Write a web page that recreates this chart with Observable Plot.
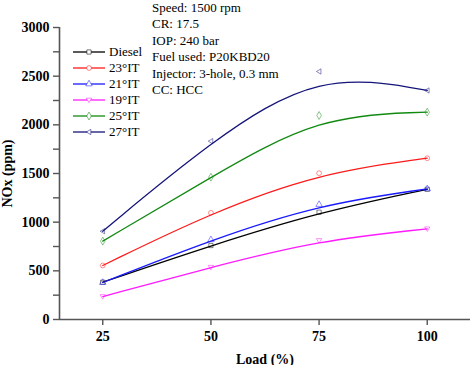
<!DOCTYPE html>
<html>
<head>
<meta charset="utf-8">
<script src="https://cdn.jsdelivr.net/npm/d3@7"></script>
<script src="https://cdn.jsdelivr.net/npm/@observablehq/plot@0.6"></script>
<style>
  body { margin: 0; background: #fff; }
  #wrap { position: relative; width: 474px; height: 365px; font-family: "Liberation Serif", "Times New Roman", serif; }
  #legend { position: absolute; left: 73px; top: 44px; }
  .li { display: flex; align-items: center; height: 16px; font-size: 13px; color: #000; }
  .li svg { margin-right: 2px; }
  #notes { position: absolute; left: 152px; top: 0px; font-size: 13px; line-height: 16.4px; color: #000; }
</style>
</head>
<body>
<div id="wrap">
  <div id="plot"></div>
  <div id="legend"></div>
  <div id="notes"></div>
</div>
<script>
// ---- data ----
const loads = [25, 50, 75, 100];
const seriesNames = ["Diesel", "23°IT", "21°IT", "19°IT", "25°IT", "27°IT"];
const diesel = [383, 760, 1102, 1338];
const it23 = [555, 1096, 1503, 1657];
const it21 = [380, 819, 1181, 1342];
const it19 = [236, 537, 812, 932];
const it25 = [805, 1462, 2096, 2130];
const it27 = [907, 1832, 2548, 2353];
const seriesValues = [diesel, it23, it21, it19, it25, it27];
const seriesColors = ["#000000", "#ff1a1a", "#1a1aff", "#ff1aff", "#128a12", "#14147a"];
const xTicks = [25, 50, 75, 100];
const yTicks = [0, 250, 500, 750, 1000, 1250, 1500, 1750, 2000, 2250, 2500, 2750, 3000];
const notes = ["Speed: 1500 rpm", "CR: 17.5", "IOP: 240 bar", "Fuel used: P20KBD20", "Injector: 3-hole, 0.3 mm", "CC: HCC"];

// ---- symbols ----
const triDown = { draw(ctx, size) { const r = Math.sqrt(size) * 0.62; ctx.moveTo(-r, -r * 0.7); ctx.lineTo(r, -r * 0.7); ctx.lineTo(0, r); ctx.closePath(); } };
const triLeft = { draw(ctx, size) { const r = Math.sqrt(size) * 0.62; ctx.moveTo(r * 0.7, -r); ctx.lineTo(r * 0.7, r); ctx.lineTo(-r, 0); ctx.closePath(); } };
const seriesSymbols = [d3.symbolSquare, d3.symbolCircle, d3.symbolTriangle, triDown, d3.symbolDiamond, triLeft];

const rows = [];
seriesNames.forEach((name, i) => loads.forEach((l, j) => rows.push({ series: name, load: l, nox: seriesValues[i][j], idx: i })));

const marks = [];
seriesNames.forEach((name, i) => {
  const d = rows.filter(r => r.idx === i);
  marks.push(Plot.line(d, { x: "load", y: "nox", curve: "basis", stroke: seriesColors[i], strokeWidth: 1.3 }));
});
seriesNames.forEach((name, i) => {
  const d = rows.filter(r => r.idx === i);
  marks.push(Plot.dot(d, { x: "load", y: "nox", symbol: seriesSymbols[i], r: 2.4, stroke: seriesColors[i], strokeOpacity: 0.55, strokeWidth: 0.9, fill: "none" }));
});

const chart = Plot.plot({
  width: 474,
  height: 365,
  marginLeft: 59,
  marginRight: 4,
  marginTop: 27,
  marginBottom: 46,
  style: { fontFamily: "Liberation Serif, Times New Roman, serif", background: "white" },
  x: { domain: [15, 110] },
  y: { domain: [0, 3000] },
  marks: [
    ...marks,
    Plot.ruleX([15], { y1: 0, y2: 3000, stroke: "#555", strokeWidth: 1.6 }),
    Plot.ruleY([0], { stroke: "#555", strokeWidth: 1.6 }),
    Plot.axisY({ ticks: yTicks, tickFormat: d => d % 500 === 0 ? String(d) : "", tickSize: 6, tickPadding: 4, stroke: "#555", strokeWidth: 1.4,
      fontSize: 14, fontWeight: "bold", fill: "black", label: "NOx (ppm)", labelAnchor: "center", labelOffset: 57, labelArrow: false }),
    Plot.axisX({ ticks: xTicks, tickSize: 6, tickPadding: 6, stroke: "#555", strokeWidth: 1.4,
      fontSize: 14, fontWeight: "bold", fill: "black", label: "Load (%)", labelAnchor: "center", labelOffset: 44, labelArrow: false })
  ]
});
document.getElementById("plot").appendChild(chart);

// legend
const legend = d3.select("#legend");
seriesNames.forEach((name, i) => {
  const row = legend.append("div").attr("class", "li");
  const svg = row.append("svg").attr("width", 34).attr("height", 12);
  svg.append("line").attr("x1", 0).attr("x2", 32).attr("y1", 6).attr("y2", 6).attr("stroke", seriesColors[i]).attr("stroke-width", 1.3);
  svg.append("path").attr("transform", "translate(16,6)").attr("d", d3.symbol(seriesSymbols[i], 18)()).attr("fill", "white").attr("stroke", seriesColors[i]).attr("stroke-opacity", 0.6).attr("stroke-width", 0.9);
  row.append("span").text(name);
});
// notes
const nt = d3.select("#notes");
notes.forEach(t => nt.append("div").text(t));
</script>
</body>
</html>
